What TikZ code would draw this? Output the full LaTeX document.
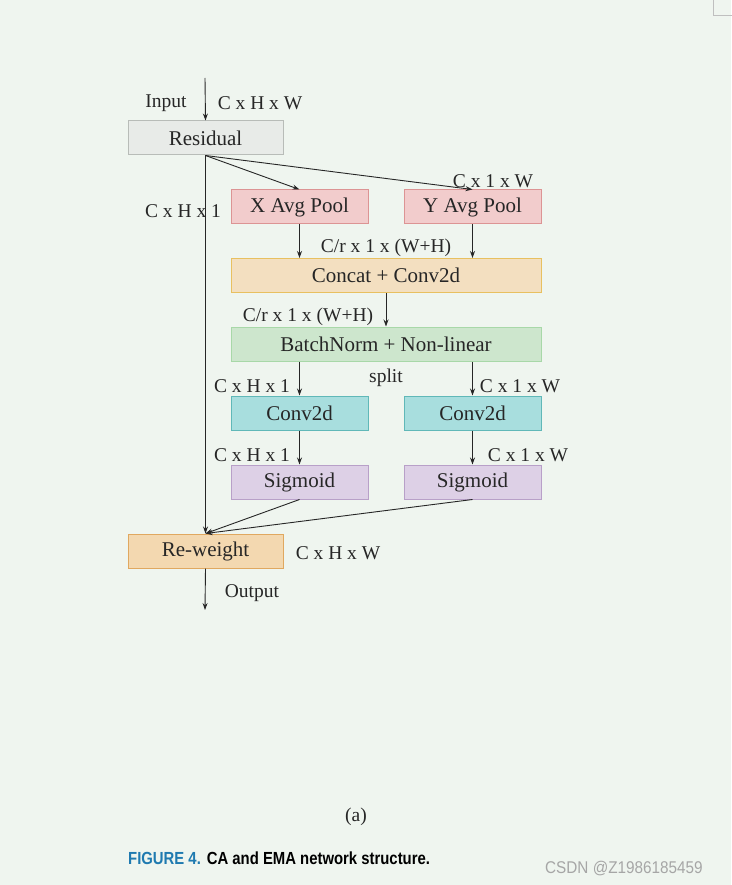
\documentclass[tikz,border=0pt]{standalone}
\usepackage{fontspec}
\setmainfont{Liberation Serif}
\newfontfamily\capfont{Liberation Sans}
\usetikzlibrary{arrows.meta}
\definecolor{bg}{HTML}{EFF5EF}
\definecolor{resF}{HTML}{E8EBE8}\definecolor{resD}{HTML}{B8BCB8}
\definecolor{pkF}{HTML}{F2CCCC}\definecolor{pkD}{HTML}{DC9494}
\definecolor{orF}{HTML}{F3DFC0}\definecolor{orD}{HTML}{E8C060}
\definecolor{grF}{HTML}{CDE6CD}\definecolor{grD}{HTML}{A8D8A8}
\definecolor{cyF}{HTML}{A8DEDE}\definecolor{cyD}{HTML}{60B8B8}
\definecolor{puF}{HTML}{DDD0E6}\definecolor{puD}{HTML}{B8A0C8}
\definecolor{rwF}{HTML}{F3D8B0}\definecolor{rwD}{HTML}{E0A860}
\definecolor{capblue}{HTML}{1F7AB0}
\begin{document}
\begin{tikzpicture}[x=1pt,y=-1pt,
  box/.style={draw,line width=1pt,minimum height=34pt,inner sep=0pt,text=black!85,font=\fontsize{21}{23}\selectfont},
  lab/.style={font=\fontsize{19.5}{22}\selectfont,inner sep=1pt,text=black!85},
  arr/.style={-{Stealth[length=7pt,width=5pt]},line width=0.9pt,black!85}]
\fill[bg] (0,0) rectangle (731,885);
\useasboundingbox (0,0) rectangle (731,885);
\draw[gray!50,line width=1pt] (713,-2) -- (713,16) -- (733,16);
\node[box,fill=resF,draw=resD,minimum width=155pt] (res) at (205.5,138) {Residual};
\node[box,fill=pkF,draw=pkD,minimum width=137pt] (xp) at (299.5,207) {X Avg Pool};
\node[box,fill=pkF,draw=pkD,minimum width=137pt] (yp) at (472.5,207) {Y Avg Pool};
\node[box,fill=orF,draw=orD,minimum width=310pt] (cc) at (386,275.5) {Concat + Conv2d};
\node[box,fill=grF,draw=grD,minimum width=310pt] (bn) at (386,344) {BatchNorm + Non-linear};
\node[box,fill=cyF,draw=cyD,minimum width=137pt] (c1) at (299.5,413) {Conv2d};
\node[box,fill=cyF,draw=cyD,minimum width=137pt] (c2) at (472.5,413) {Conv2d};
\node[box,fill=puF,draw=puD,minimum width=137pt] (s1) at (299.5,482) {Sigmoid};
\node[box,fill=puF,draw=puD,minimum width=137pt] (s2) at (472.5,482) {Sigmoid};
\node[box,fill=rwF,draw=rwD,minimum width=155pt] (rw) at (205.5,551) {Re-weight};
\coordinate (in) at (205,78);
\coordinate (out) at (205,610);
\draw[arr] (in) -- (res.north);
\draw[arr] (res.south) -- (rw.north);
\draw[arr] (rw.south) -- (out);
\draw[arr] (res.south) -- (xp.north);
\draw[arr] (res.south) -- (yp.north);
\draw[arr] (xp.south) -- (xp.south|-cc.north);
\draw[arr] (yp.south) -- (yp.south|-cc.north);
\draw[arr] (cc.south) -- (bn.north);
\draw[arr] (c1.north|-bn.south) -- (c1.north);
\draw[arr] (c2.north|-bn.south) -- (c2.north);
\draw[arr] (c1.south) -- (s1.north);
\draw[arr] (c2.south) -- (s2.north);
\draw[arr] (s1.south) -- (rw.north);
\draw[arr] (s2.south) -- (rw.north);
\node[lab] (l1) at (166,103) {Input};
\node[lab] (l2) at (260,103) {C x H x W};
\node[lab] (l3) at (493,181) {C x 1 x W};
\node[lab] (l4) at (183,211) {C x H x 1};
\node[lab] (l5) at (386,248) {C/r x 1 x (W+H)};
\node[lab] (l6) at (308,317) {C/r x 1 x (W+H)};
\node[lab] (l7) at (386,378) {split};
\node[lab] (l8) at (252,386) {C x H x 1};
\node[lab] (l9) at (520,386) {C x 1 x W};
\node[lab] (l10) at (252,455) {C x H x 1};
\node[lab] (l11) at (528,455) {C x 1 x W};
\node[lab] (l12) at (338,553) {C x H x W};
\node[lab] (l13) at (252,593) {Output};
\node[lab] (l14) at (356,817) {(a)};
\node[anchor=west,inner sep=0pt,font=\capfont\bfseries\fontsize{17.5}{20}\selectfont,xscale=0.85] (cap) at (128,858) {\textcolor{capblue}{FIGURE 4.}\hspace{7pt}CA and EMA network structure.};
\node[anchor=west,inner sep=0pt,font=\capfont\fontsize{17}{19}\selectfont,text=gray!70,xscale=0.9] (wm) at (545,869) {CSDN @Z1986185459};
\end{tikzpicture}
\end{document}
